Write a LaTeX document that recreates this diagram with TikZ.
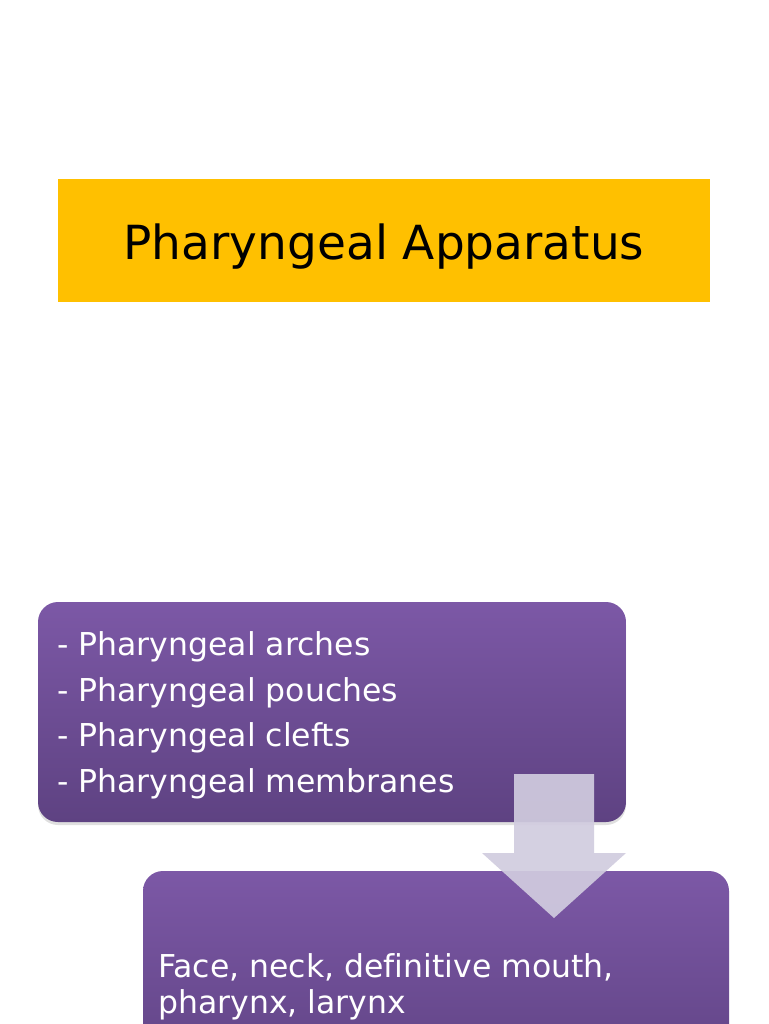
\documentclass[tikz,border=0pt]{standalone}
\usepackage{fontspec}
\setmainfont[Ligatures=NoCommon]{DejaVu Sans}
\usetikzlibrary{shadows}
\definecolor{titlegold}{HTML}{FFC000}
\definecolor{purtop}{HTML}{7C58A6}
\definecolor{purbot}{HTML}{5E4282}
\definecolor{arrowfill}{HTML}{D1CCDF}
\tikzset{
  purbox/.style={rounded corners=20pt, top color=purtop, bottom color=purbot, draw=none},
  boxtext/.style={text=white, font=\fontsize{31.5}{36}\selectfont, inner sep=0pt, anchor=base west},
  blockarrow/.style={fill=arrowfill, fill opacity=0.92, draw=none},
}
\begin{document}
\begin{tikzpicture}[x=1pt,y=-1pt]
\useasboundingbox (0,0) rectangle (768,1024);
\fill[white] (0,0) rectangle (768,1024);
% title
\node[fill=titlegold, minimum width=652pt, minimum height=123pt, inner sep=0pt, anchor=north west] (title) at (58,179) {};
\node[font=\fontsize{47}{50}\selectfont, inner sep=0pt, anchor=base] (titletext) at (384,259) {Pharyngeal Apparatus};
% box 1
\path[purbox, drop shadow={shadow xshift=0pt, shadow yshift=-3pt, opacity=0.25}] (38,602) rectangle (626,822);
\node[inner sep=0pt, minimum width=588pt, minimum height=220pt, anchor=north west] (box1) at (38,602) {};
\node[boxtext] (l1) at (57,655) {- Pharyngeal arches};
\node[boxtext] (l2) at (57,701) {- Pharyngeal pouches};
\node[boxtext] (l3) at (57,746) {- Pharyngeal clefts};
\node[boxtext] (l4) at (57,792) {- Pharyngeal membranes};
% box 2
\path[purbox] (143,871) rectangle (729,1091);
\node[inner sep=0pt, minimum width=586pt, minimum height=220pt, anchor=north west] (box2) at (143,871) {};
\node[boxtext] (m1) at (158,977) {Face, neck, definitive mouth,};
\node[boxtext] (m2) at (158,1013) {pharynx, larynx};
% block arrow
\coordinate (arrtop) at (554,774);
\coordinate (arrtip) at (554,918);
\path[blockarrow] (514,774) -- (594,774) -- (594,853) -- (626,853) -- (arrtip) -- (482,853) -- (514,853) -- cycle;
\end{tikzpicture}
\end{document}
